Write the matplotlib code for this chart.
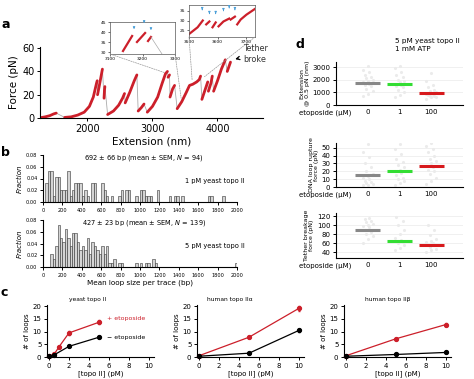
import matplotlib
matplotlib.use('Agg')
import matplotlib.pyplot as plt
from matplotlib.patches import ConnectionPatch

RED = '#cc1f2a'

# ---- panel a: force-extension trace (pieces between rupture events)
trace_ext = [
    [1280, 1350, 1420, 1480, 1520],
    [1650, 1750, 1850, 1950, 2030, 2090, 2140, 2150],
    [2155, 2190, 2230],
    [2255, 2262, 2268],
    [2310, 2400, 2480, 2540, 2570],
    [2580, 2650, 2720, 2760],
    [2780, 2830, 2870],
    [2920, 3000, 3080, 3150, 3200, 3230],
    [3240, 3262],
    [3270, 3310, 3340],
    [3380, 3450, 3520, 3570, 3620, 3680, 3720, 3740],
    [3760, 3820, 3850],
    [3860, 3900, 3920],
    [3940, 4000, 4060, 4120],
    [4150, 4200],
]
trace_force = [
    [0.3, 1, 2, 3.5, 4.2],
    [0.5, 1, 2.5, 5, 10, 18, 30, 32],
    [20, 30, 42],
    [17, 24, 27],
    [3, 6, 11, 17, 21],
    [13, 22, 32, 37],
    [6, 9, 12],
    [5, 10, 18, 30, 38, 40],
    [35, 37],
    [18, 25, 28],
    [8, 14, 22, 28, 29, 31, 33, 36],
    [16, 26, 31],
    [23, 30, 36],
    [23, 32, 42, 50],
    [40, 48],
]

inset1_ext = [[3140, 3168], [3183, 3208], [3217, 3226]]
inset1_force = [[30.5, 38], [35, 39.5], [35.5, 37.5]]
inset1_tail = ([3226, 3260], [37.5, 29])
inset1_arrows = [3174, 3205, 3226]
inset1_arrow_y = [40, 43, 39.5]

inset2_ext = [[3500, 3530, 3548], [3560, 3571], [3582, 3593], [3603, 3620, 3640],
              [3645, 3660], [3668, 3680, 3700, 3730]]
inset2_force = [[23, 26.5, 30], [28, 29.5], [26.5, 29], [27, 29.5, 31],
                [30.5, 32], [28, 30.5, 33, 36]]
inset2_arrows = [3546, 3571, 3593, 3620, 3640, 3660, 3715]
inset2_arrow_y = [34, 32, 32, 33.5, 35, 34, 39.5]

# ---- panel b: histograms of mean loop size (bin centres in bp, fraction)
hist1_bins = [37, 62, 87, 112, 137, 162, 187, 212, 237, 262, 287, 312, 337, 362, 387,
              412, 437, 462, 512, 537, 612, 637, 662, 712, 787, 812, 862, 887, 962,
              1012, 1037, 1062, 1087, 1112, 1187, 1312, 1362, 1387, 1437, 1712, 1737, 1862]
hist1_frac = [0.032, 0.053, 0.053, 0.011, 0.043, 0.043, 0.021, 0.021, 0.021, 0.053,
              0.011, 0.021, 0.032, 0.032, 0.032, 0.011, 0.021, 0.011, 0.032, 0.032,
              0.032, 0.021, 0.011, 0.011, 0.011, 0.021, 0.021, 0.021, 0.011, 0.021,
              0.021, 0.011, 0.011, 0.011, 0.021, 0.011, 0.011, 0.011, 0.011, 0.011,
              0.011, 0.011]
hist2_bins = [87, 112, 137, 162, 187, 212, 237, 262, 287, 312, 337, 362, 387, 412, 437,
              462, 487, 512, 537, 562, 587, 612, 637, 662, 687, 712, 737, 787, 812,
              962, 1012, 1062, 1087, 1137, 1162, 1987]
hist2_frac = [0.022, 0.014, 0.036, 0.072, 0.050, 0.043, 0.065, 0.050, 0.036, 0.058,
              0.058, 0.043, 0.029, 0.036, 0.029, 0.050, 0.022, 0.043, 0.036, 0.029,
              0.022, 0.036, 0.022, 0.036, 0.007, 0.007, 0.014, 0.007, 0.007,
              0.007, 0.007, 0.007, 0.007, 0.014, 0.007, 0.007]

# ---- panel c: number of loops vs topo II concentration
yeast_x_plus = [0, 0.5, 1, 2, 5]
yeast_plus = [0.5, 1.0, 4.0, 9.5, 13.7]
yeast_plus_err = [0.2, 0.3, 0.4, 0.8, 0.7]
yeast_x_minus = [0, 0.5, 2, 5]
yeast_minus = [0.3, 0.8, 4.2, 7.8]
yeast_minus_err = [0.1, 0.2, 0.3, 0.3]

human_x = [0, 5, 10]
alpha_plus = [0.5, 7.8, 19.2]
alpha_plus_err = [0.2, 0.4, 0.9]
alpha_minus = [0.3, 1.5, 10.5]
alpha_minus_err = [0.1, 0.2, 0.5]
beta_plus = [0.5, 7.2, 12.8]
beta_plus_err = [0.2, 0.3, 0.6]
beta_minus = [0.3, 1.0, 1.8]
beta_minus_err = [0.1, 0.2, 0.2]

# ---- panel d: per-tether values at 0, 1, 100 uM etoposide
etoposide = ['0', '1', '100']
d_colors = ['#888888', '#33dd33', '#d7191c']
ext_means = [1750, 1650, 950]
rupture_means = [15, 20, 27]
breakage_means = [90, 65, 57]
ext_points = [
    [700, 900, 1100, 1300, 1500, 1600, 1700, 1800, 1900, 2000, 2100, 2200, 2400, 2600, 2800, 3050],
    [600, 800, 1000, 1200, 1400, 1500, 1600, 1700, 1800, 1900, 2000, 2200, 2400, 2600, 2900, 3100],
    [500, 600, 650, 700, 750, 800, 850, 900, 950, 1000, 1100, 1200, 1400, 1600, 1900, 2500],
]
rupture_points = [
    [2, 3, 4, 5, 6, 8, 10, 12, 14, 16, 20, 25, 30, 38, 45, 55],
    [3, 5, 8, 10, 12, 15, 18, 20, 22, 25, 28, 32, 36, 42, 48, 55],
    [4, 8, 12, 16, 20, 22, 25, 27, 30, 33, 36, 40, 44, 48, 52, 56],
]
breakage_points = [
    [60, 70, 75, 80, 85, 90, 95, 98, 100, 103, 106, 110, 113, 117],
    [45, 50, 55, 60, 63, 65, 68, 72, 80, 90, 100, 110, 118],
    [40, 45, 48, 52, 55, 57, 60, 62, 65, 70, 78, 90, 100],
]

fig = plt.figure(figsize=(4.74, 3.79), dpi=100)
W, H = 474.0, 379.0


def add_ax(x0, y0, x1, y1):
    # pixel box (top-left origin) -> figure axes
    return fig.add_axes([x0 / W, 1 - y1 / H, (x1 - x0) / W, (y1 - y0) / H])


def simple(ax, fs):
    for s in ['top', 'right']:
        ax.spines[s].set_visible(False)
    for s in ['left', 'bottom']:
        ax.spines[s].set_linewidth(0.8)
    ax.tick_params(labelsize=fs, width=0.7, length=2.5, pad=1.5)


# ---------------- panel a
ax = add_ax(40, 47, 263, 118)
simple(ax, 7)
for i in range(len(trace_ext) - 1):
    ax.plot([trace_ext[i][-1], trace_ext[i + 1][0]],
            [trace_force[i][-1], trace_force[i + 1][0]], color='#aaaaaa', lw=0.6)
for xs, ys in zip(trace_ext, trace_force):
    ax.plot(xs, ys, color=RED, lw=2.0, solid_capstyle='round')
ax.set_xlim(1270, 4700)
ax.set_ylim(0, 61)
ax.set_xticks([2000, 3000, 4000])
ax.set_yticks([0, 20, 40, 60])
ax.set_xlabel('Extension (nm)', fontsize=7.5, labelpad=2)
ax.set_ylabel('Force (pN)', fontsize=7.5, labelpad=2)
ax.annotate('Tether\nbroke', xy=(4230, 50), xytext=(4400, 55), fontsize=5.8,
            va='center', ha='left', color='#333333',
            arrowprops=dict(arrowstyle='->', lw=0.9, color='black'))
main_ax = ax

# insets
ins1 = add_ax(110, 22, 175, 54)
ins2 = add_ax(189, 5, 255, 37)
for ins in [ins1, ins2]:
    ins.tick_params(labelsize=3.2, width=0.4, length=1.5, pad=1)
    for s in ins.spines.values():
        s.set_linewidth(0.5)
        s.set_color('#555555')
for xs, ys in zip(inset1_ext, inset1_force):
    ins1.plot(xs, ys, color=RED, lw=1.6)
ins1.plot(inset1_tail[0], inset1_tail[1], color='#aaaaaa', lw=0.5)
ins1.set_xlim(3100, 3300)
ins1.set_ylim(29, 45)
ins1.set_xticks([3100, 3200, 3300])
ins1.set_yticks([30, 35, 40, 45])
for xa, ya in zip(inset1_arrows, inset1_arrow_y):
    ins1.annotate('', xy=(xa, ya), xytext=(xa, ya + 4),
                  arrowprops=dict(arrowstyle='-|>', lw=0.6, color='#4a9fd8', mutation_scale=3))
for xs, ys in zip(inset2_ext, inset2_force):
    ins2.plot(xs, ys, color=RED, lw=1.6)
ins2.set_xlim(3500, 3730)
ins2.set_ylim(21.5, 38)
ins2.set_xticks([3500, 3600, 3700])
ins2.set_yticks([25, 30, 35])
for xa, ya in zip(inset2_arrows, inset2_arrow_y):
    ins2.annotate('', xy=(xa, ya), xytext=(xa, ya + 3),
                  arrowprops=dict(arrowstyle='-|>', lw=0.6, color='#4a9fd8', mutation_scale=3),
                  annotation_clip=False)

for ins, pts in [(ins1, [((0, 0), (3185, 39)), ((1, 0), (3441, 17))]),
                 (ins2, [((0, 0), (3610, 32.5)), ((1, 0), (3800, 35.5))])]:
    for a, b in pts:
        con = ConnectionPatch(xyA=a, coordsA=ins.transAxes, xyB=b, coordsB=main_ax.transData,
                              color='#999999', lw=0.5, ls=(0, (2, 1.5)))
        fig.add_artist(con)

# ---------------- panel b
for (y0, y1), bins, frac, txt, lab in [
        ((155, 202), hist1_bins, hist1_frac, '692 ± 66 bp (mean ± SEM, $N$ = 94)', '1 pM yeast topo II'),
        ((220, 267), hist2_bins, hist2_frac, '427 ± 23 bp (mean ± SEM, $N$ = 139)', '5 pM yeast topo II')]:
    ax = add_ax(43, y0, 237, y1)
    simple(ax, 3.6)
    ax.bar(bins, frac, width=25, color='#d4d4d4', edgecolor='#333333', linewidth=0.4)
    ax.set_xlim(0, 2000)
    ax.set_ylim(0, 0.08)
    ax.set_xticks(range(0, 2001, 200))
    ax.set_yticks([0, 0.02, 0.04, 0.06, 0.08])
    ax.set_yticklabels(['0.00', '0.02', '0.04', '0.06', '0.08'])
    ax.set_ylabel('Fraction', fontsize=5, labelpad=2, style='italic')
    ax.text(0.52, 0.93, txt, transform=ax.transAxes, ha='center', va='center', fontsize=4.8)
    ax.text(1.04, 0.45, lab, transform=ax.transAxes, ha='right', va='center', fontsize=4.8)
ax.set_xlabel('Mean loop size per trace (bp)', fontsize=5.2, labelpad=1.5)

# ---------------- panel c
c_axes = []
for x0 in [47, 197, 344]:
    ax = add_ax(x0, 305, x0 + 107, 357)
    simple(ax, 5)
    ax.set_xlim(-0.2, 10.5)
    ax.set_ylim(0, 20.5)
    ax.set_xticks(range(0, 11, 2))
    ax.set_yticks([0, 5, 10, 15, 20])
    ax.set_xlabel('[topo II] (pM)', fontsize=5, labelpad=1)
    ax.set_ylabel('# of loops', fontsize=5, labelpad=2)
    c_axes.append(ax)

ax = c_axes[0]
ax.errorbar(yeast_x_plus, yeast_plus, yerr=yeast_plus_err, color=RED, marker='o', ms=2.8,
            lw=0.9, elinewidth=0.7, capsize=0.8, clip_on=False)
ax.errorbar(yeast_x_minus, yeast_minus, yerr=yeast_minus_err, color='black', marker='o', ms=2.8,
            lw=0.9, elinewidth=0.7, capsize=0.8, clip_on=False)
ax.text(5.8, 15.3, '+ etoposide', color=RED, fontsize=4.5, va='center')
ax.text(5.8, 7.8, '− etoposide', color='black', fontsize=4.5, va='center')
ax.text(3.9, 21.5, 'yeast topo II', fontsize=4.3, ha='center', va='bottom')

for ax, plus, pe, minus, me, title, tx in [
        (c_axes[1], alpha_plus, alpha_plus_err, alpha_minus, alpha_minus_err, 'human topo IIα', 3.1),
        (c_axes[2], beta_plus, beta_plus_err, beta_minus, beta_minus_err, 'human topo IIβ', 4.2)]:
    ax.errorbar(human_x, plus, yerr=pe, color=RED, marker='o', ms=2.8, lw=0.9,
                elinewidth=0.7, capsize=0.8, clip_on=False)
    ax.errorbar(human_x, minus, yerr=me, color='black', marker='o', ms=2.8, lw=0.9,
                elinewidth=0.7, capsize=0.8, clip_on=False)
    ax.text(tx, 21.5, title, fontsize=4.3, ha='center', va='bottom')

# ---------------- panel d
d_specs = [
    ((62, 105), ext_points, ext_means, (0, 3400), [0, 1000, 2000, 3000], 'Extension\n@ 0.5 pN (nm)'),
    ((143, 187), rupture_points, rupture_means, (0, 56), [0, 10, 20, 30, 40, 50], 'DNA loop rupture\nforce (pN)'),
    ((213, 258), breakage_points, breakage_means, (27, 127), [40, 60, 80, 100, 120], 'Tether breakage\nforce (pN)'),
]
for (y0, y1), pts, means, ylim, yt, ylab in d_specs:
    ax = add_ax(336, y0, 463, y1)
    simple(ax, 5)
    ax.set_xlim(-1, 3)
    ax.set_ylim(*ylim)
    ax.set_yticks(yt)
    ax.yaxis.grid(True, color='#eeeeee', lw=0.6)
    ax.set_axisbelow(True)
    for i, vals in enumerate(pts):
        offs = [((k * 3 % 7) - 3) * 0.05 for k in range(len(vals))]
        ax.scatter([i + o for o in offs], vals, s=5, color='#ebebeb', lw=0)
        ax.plot([i - 0.4, i + 0.4], [means[i], means[i]], color=d_colors[i], lw=2.2,
                solid_capstyle='butt')
    ax.set_xticks(range(3))
    ax.set_xticklabels(etoposide)
    ax.tick_params(axis='x', length=0, pad=3)
    ax.annotate('etoposide (μM)', xy=(-1.35, 0), xycoords=ax.get_xaxis_transform(),
                xytext=(0, -3), textcoords='offset points', ha='center', va='top',
                fontsize=5, annotation_clip=False)
    ax.set_ylabel(ylab, fontsize=4.5, labelpad=2, linespacing=1.0)
fig.text(395 / W, 1 - 45 / H, '5 pM yeast topo II\n1 mM ATP', fontsize=5.2, va='center',
         ha='left', linespacing=1.3)

# panel letters
for lab, x, y in [('a', 6, 24), ('b', 5, 153), ('c', 4, 293), ('d', 300, 45)]:
    fig.text(x / W, 1 - y / H, lab, fontsize=9, fontweight='bold', ha='center', va='center')

fig.savefig('out.png', dpi=100)
